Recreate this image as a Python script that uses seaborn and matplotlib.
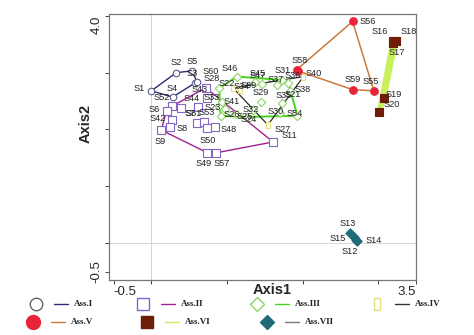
import numpy as np
import pandas as pd
import matplotlib
matplotlib.use("Agg")
import matplotlib.pyplot as plt
import seaborn as sns

sns.set_theme(style="white")
plt.rcParams["font.family"] = ["Liberation Sans", "DejaVu Sans"]

# ---- ordination scores per association ----
ass1_names = ["S1", "S2", "S5", "S3", "S60", "S4"]
ass1_x = [0.00, 0.33, 0.54, 0.58, 0.60, 0.28]
ass1_y = [2.68, 3.00, 3.03, 2.82, 2.84, 2.57]

ass2_names = ["S28", "S43", "S44", "S52", "S6", "S7", "S42", "S8", "S9",
              "S51", "S53", "S50", "S48", "S49", "S57", "S11"]
ass2_x = [0.72, 0.73, 0.61, 0.27, 0.20, 0.39, 0.27, 0.24, 0.13,
          0.60, 0.70, 0.74, 0.84, 0.74, 0.86, 1.61]
ass2_y = [2.73, 2.55, 2.40, 2.41, 2.33, 2.38, 2.17, 2.04, 1.99,
          2.11, 2.13, 2.03, 2.04, 1.59, 1.59, 1.78]

ass3_names = ["S46", "S45", "S31", "S47", "S37", "S36", "S38", "S29", "S35",
              "S30", "S54", "S24", "S32", "S26", "S41", "S33", "S23", "S22", "S25"]
ass3_x = [1.13, 1.37, 1.73, 1.46, 1.66, 1.81, 1.83, 1.45, 1.73,
          1.70, 1.93, 1.34, 1.26, 0.92, 0.90, 0.93, 0.97, 0.90, 1.12]
ass3_y = [2.93, 2.84, 2.87, 2.80, 2.78, 2.82, 2.68, 2.48, 2.47,
          2.29, 2.24, 2.34, 2.22, 2.24, 2.41, 2.48, 2.36, 2.73, 2.27]

ass4_names = ["S34", "S39", "S21", "S27"]
ass4_x = [1.08, 1.17, 2.01, 1.54]
ass4_y = [2.73, 2.70, 2.93, 2.08]

ass5_names = ["S58", "S40", "S56", "S55", "S59"]
ass5_x = [1.92, 1.94, 2.66, 2.94, 2.66]
ass5_y = [3.05, 3.03, 3.90, 2.68, 2.70]

ass6_names = ["S16", "S18", "S17", "S19", "S20"]
ass6_x = [3.19, 3.23, 3.20, 3.08, 3.01]
ass6_y = [3.56, 3.56, 3.52, 2.55, 2.31]

ass7_names = ["S13", "S15", "S14", "S12"]
ass7_x = [2.63, 2.68, 2.72, 2.71]
ass7_y = [0.18, 0.11, 0.04, 0.05]

group_labels = ["Ass.I", "Ass.II", "Ass.III", "Ass.IV", "Ass.V", "Ass.VI", "Ass.VII"]

frames = []
for lab, n, xs, ys in zip(
        group_labels,
        [ass1_names, ass2_names, ass3_names, ass4_names, ass5_names, ass6_names, ass7_names],
        [ass1_x, ass2_x, ass3_x, ass4_x, ass5_x, ass6_x, ass7_x],
        [ass1_y, ass2_y, ass3_y, ass4_y, ass5_y, ass6_y, ass7_y]):
    frames.append(pd.DataFrame({"site": n, "Axis1": xs, "Axis2": ys, "group": lab}))
df = pd.concat(frames, ignore_index=True)

# ---- styling per association ----
tall_rect = [(-0.55, -1), (0.55, -1), (0.55, 1), (-0.55, 1), (-0.55, -1)]
styles = {
    "Ass.I":   dict(marker="o", s=22, fc="white", ec="#5a5a8e", hull="#2b2b78", lw=1.0),
    "Ass.II":  dict(marker="s", s=30, fc="white", ec="#8366c8", hull="#a3208f", lw=1.0),
    "Ass.III": dict(marker="D", s=18, fc="white", ec="#8fd46a", hull="#44d41e", lw=1.4),
    "Ass.IV":  dict(marker=tall_rect, s=22, fc="white", ec="#e6e07a", hull="#2a2a2a", lw=0.9),
    "Ass.V":   dict(marker="o", s=30, fc="#e8243a", ec="#e8243a", hull="#c97a3a", lw=1.1),
    "Ass.VI":  dict(marker="s", s=30, fc="#6e1e08", ec="#6e1e08", hull="#c8f05a", lw=3.2),
    "Ass.VII": dict(marker="D", s=22, fc="#1f6b7a", ec="#1f6b7a", hull="#3a7f8c", lw=1.0),
}


def convex_hull(points):
    pts = sorted(set(points))
    if len(pts) < 3:
        return pts

    def cross(o, a, b):
        return (a[0] - o[0]) * (b[1] - o[1]) - (a[1] - o[1]) * (b[0] - o[0])

    lower, upper = [], []
    for p in pts:
        while len(lower) >= 2 and cross(lower[-2], lower[-1], p) <= 0:
            lower.pop()
        lower.append(p)
    for p in reversed(pts):
        while len(upper) >= 2 and cross(upper[-2], upper[-1], p) <= 0:
            upper.pop()
        upper.append(p)
    return lower[:-1] + upper[:-1]


fig = plt.figure(figsize=(4.74, 3.35), dpi=100)
ax = fig.add_axes([0.230, 0.164, 0.648, 0.794])

ax.axvline(0, color="#cfcfcf", lw=0.6, zorder=0)
ax.axhline(0, color="#cfcfcf", lw=0.6, zorder=0)

for lab in group_labels:
    sub = df[df["group"] == lab]
    st = styles[lab]
    hull = convex_hull(list(zip(sub["Axis1"], sub["Axis2"])))
    hx = [p[0] for p in hull] + [hull[0][0]]
    hy = [p[1] for p in hull] + [hull[0][1]]
    ax.plot(hx, hy, color=st["hull"], lw=st["lw"], zorder=2, solid_joinstyle="round")
    sns.scatterplot(data=sub, x="Axis1", y="Axis2", marker=st["marker"], s=st["s"],
                    facecolor=st["fc"], edgecolor=st["ec"], linewidth=0.8,
                    ax=ax, legend=False, zorder=3)

# label offsets (points) for the site names
offsets = {
    "S1": (-9, 2), "S3": (-2, 7), "S60": (10, 7), "S4": (0, 6),
    "S28": (4, 7), "S43": (-5, 6), "S44": (-4, 6), "S52": (-7, 6),
    "S6": (-9, 1), "S7": (7, -4), "S42": (-10, 1), "S8": (9, -1),
    "S9": (-1, -8), "S51": (-2, 7), "S53": (2, 7), "S50": (0, -9),
    "S48": (10, -2), "S49": (-3, -8), "S57": (4, -8), "S11": (12, 5),
    "S46": (-5, 6), "S45": (2, 6), "S47": (-3, 6), "S37": (-1, 4),
    "S36": (3, 5), "S38": (9, 1), "S35": (1, 5), "S30": (-3, 1),
    "S54": (-2, 2), "S24": (-3, -7), "S32": (3, 5), "S26": (8, 1),
    "S41": (9, 3), "S33": (-7, 3), "S23": (-9, 1), "S22": (5, 3),
    "S25": (6, -2), "S34": (6, 1), "S39": (6, 3), "S21": (-8, -13),
    "S27": (11, -3),
    "S58": (2, 7), "S40": (11, -2), "S56": (11, 0), "S55": (-2, 7),
    "S59": (0, 7),
    "S16": (-9, 7), "S18": (9, 7), "S17": (2, -7), "S19": (7, 3),
    "S20": (9, 5),
    "S13": (-2, 7), "S14": (12, 0), "S15": (-12, -1), "S12": (-5, -8),
}
for _, r in df.iterrows():
    dx, dy = offsets.get(r["site"], (0, 7))
    ax.annotate(r["site"], (r["Axis1"], r["Axis2"]), xytext=(dx, dy),
                textcoords="offset points", ha="center", va="center",
                fontsize=6.6, color="#222222", zorder=4)

ax.set_xlim(-0.56, 3.5)
ax.set_ylim(-0.65, 4.03)
ax.set_xticks([-0.5, 0, 1, 2, 3, 3.5])
ax.set_xticklabels(["-0.5", "", "", "", "", "3.5"], fontsize=9.5)
xl = ax.get_xticklabels()
xl[0].set_ha("left")
xl[-1].set_ha("right")
ax.set_yticks([-0.5, 0, 1, 2, 3, 4])
ax.set_yticklabels(["-0.5", "", "", "", "", "4.0"], fontsize=9.5, rotation=90, va="center")
ax.get_yticklabels()[-1].set_va("top")
ax.tick_params(axis="both", direction="out", length=3, width=0.7, color="#444444",
               pad=1.5, bottom=True, left=True)
for sp in ax.spines.values():
    sp.set_color("#777777")
    sp.set_linewidth(0.9)

ax.set_xlabel("Axis1", fontsize=10.5, fontweight="bold")
ax.set_ylabel("Axis2", fontsize=10.5, fontweight="bold")
ax.xaxis.set_label_coords(0.53, -0.01)
ax.yaxis.set_label_coords(-0.052, 0.59)

# ---- legend strip beneath the plot ----
lax = fig.add_axes([0, 0, 1, 0.15])
lax.set_xlim(0, 474)
lax.set_ylim(50, 0)
lax.axis("off")
legend_pos = {
    "Ass.I": (36, 19), "Ass.II": (143, 19), "Ass.III": (257, 19), "Ass.IV": (377, 19),
    "Ass.V": (33, 37), "Ass.VI": (147, 37), "Ass.VII": (267, 37),
}
legend_marker = {
    "Ass.I": dict(marker="o", ms=9, mfc="white", mec="#666666"),
    "Ass.II": dict(marker="s", ms=9, mfc="white", mec="#8366c8"),
    "Ass.III": dict(marker="D", ms=7, mfc="white", mec="#8fd46a"),
    "Ass.IV": dict(marker=tall_rect, ms=9, mfc="white", mec="#e6e07a"),
    "Ass.V": dict(marker="o", ms=10, mfc="#e8243a", mec="#e8243a"),
    "Ass.VI": dict(marker="s", ms=9, mfc="#6e1e08", mec="#6e1e08"),
    "Ass.VII": dict(marker="D", ms=7, mfc="#1f6b7a", mec="#1f6b7a"),
}
legend_line = {
    "Ass.I": "#2b2b78", "Ass.II": "#a3208f", "Ass.III": "#44d41e", "Ass.IV": "#333333",
    "Ass.V": "#c97a3a", "Ass.VI": "#c8f05a", "Ass.VII": "#777777",
}
for lab in group_labels:
    x0, y0 = legend_pos[lab]
    lax.plot([x0], [y0], linestyle="none", **legend_marker[lab])
    lax.plot([x0 + 18, x0 + 32], [y0, y0], color=legend_line[lab], lw=1.0)
    lax.text(x0 + 38, y0, lab, fontsize=6.5, fontweight="bold", va="center", ha="left",
             family=["Liberation Serif", "DejaVu Serif"], color="#222222")

fig.savefig("out.png", dpi=100)
